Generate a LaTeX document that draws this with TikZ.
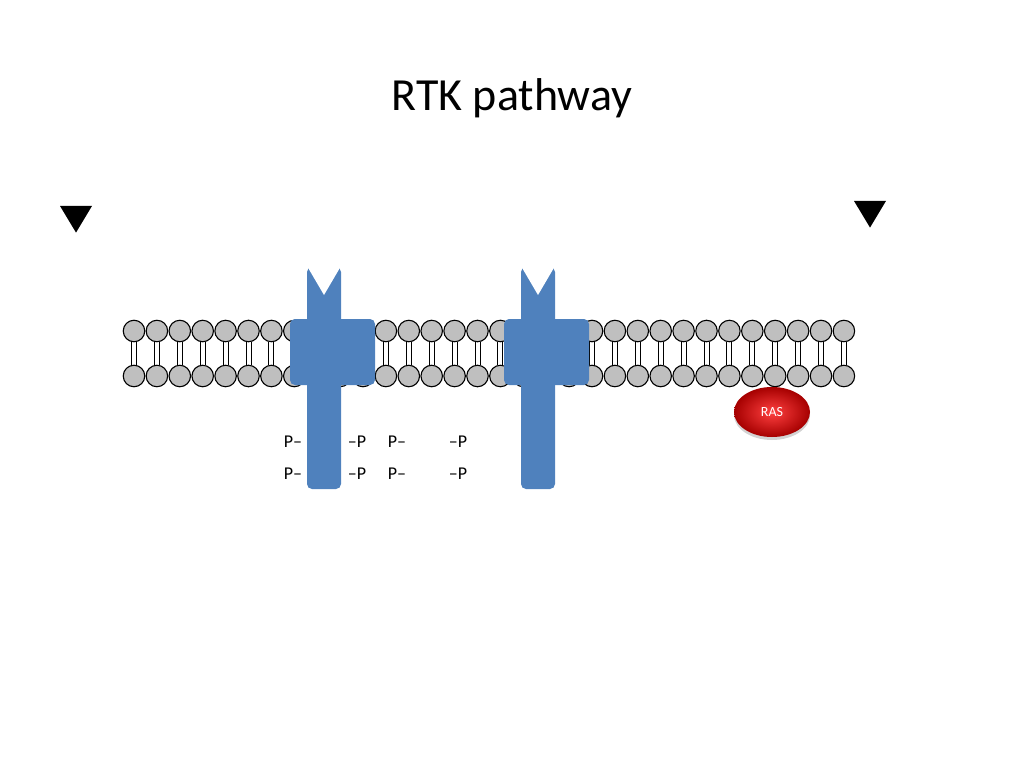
\documentclass[tikz,border=0pt]{standalone}
\usepackage{fontspec}
\setmainfont{Carlito}
\usetikzlibrary{shapes,shadows,calc}
\definecolor{rblue}{RGB}{79,129,189}
\definecolor{headgray}{RGB}{191,191,191}
\tikzstyle{head}=[circle,fill=headgray,draw=black,line width=1.1,minimum size=21.5pt,inner sep=0pt]
\tikzstyle{marker}=[isosceles triangle,shape border rotate=-90,isosceles triangle apex angle=62,fill=black,inner sep=0pt,minimum height=26pt,minimum width=32pt]
\tikzstyle{phos}=[inner sep=0pt,font=\fontsize{18}{20}\selectfont]
\tikzstyle{block}=[fill=rblue,rounded corners=5pt]
\begin{document}
\begin{tikzpicture}[x=1pt,y=-1pt]
	\useasboundingbox (0,0) rectangle (1024,768);
	\node (title) at (512,98) {\fontsize{46}{50}\selectfont RTK pathway};
	\node [style=marker] (ML) at (76,215) {};
	\node [style=marker] (MR) at (870,210) {};
	% bilayer
	\foreach \i in {0,...,31} {
		\node [style=head] (T\i) at (134+22.9*\i,331) {};
		\node [style=head] (B\i) at (134+22.9*\i,376) {};
		\draw [line width=1] ($(T\i.south)+(-2.5,0)$) -- ($(B\i.north)+(-2.5,0)$);
		\draw [line width=1] ($(T\i.south)+(2.5,0)$) -- ($(B\i.north)+(2.5,0)$);
	}
	% receptors
	\foreach \x/\n in {324/A,538/B} {
		\fill [style=block] (\x-34,319) rectangle (\x+51,385);
		\fill [style=block] (\x-17,267) rectangle (\x+17,489);
		\fill [white] (\x-17,266) -- (\x+17,266) -- (\x,295) -- cycle;
		\coordinate (\n) at (\x,267);
	}
	\foreach \y/\r in {442/a,474/b} {
		\node [style=phos] (P1\r) at (293,\y) {P--};
		\node [style=phos] (P2\r) at (357,\y) {--P};
		\node [style=phos] (P3\r) at (397,\y) {P--};
		\node [style=phos] (P4\r) at (458,\y) {--P};
	}
	\node [ellipse,minimum width=76pt,minimum height=50pt,inner sep=0pt,
		inner color=red!75!white,outer color=red!65!black,draw=none,
		drop shadow={opacity=0.35,shadow xshift=0pt,shadow yshift=-3pt},
		text=white,font=\fontsize{14}{16}\selectfont] (RAS) at (772,412) {RAS};
\end{tikzpicture}
\end{document}
